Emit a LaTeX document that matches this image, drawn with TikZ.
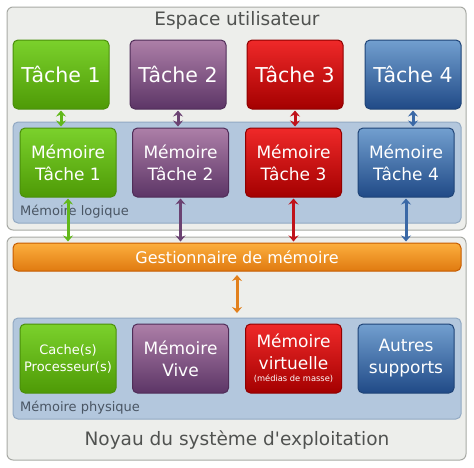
\documentclass[tikz,border=0pt]{standalone}
\usepackage{fontspec}
\setmainfont{DejaVu Sans}
\newfontfamily\plainfont{DejaVu Sans}
\usetikzlibrary{arrows.meta}
\definecolor{grnT}{HTML}{7BD12C}\definecolor{grnB}{HTML}{4E9A06}\definecolor{grnD}{HTML}{4A8F0A}
\definecolor{purT}{HTML}{AD7FA8}\definecolor{purB}{HTML}{5C3566}\definecolor{purD}{HTML}{4F2D58}
\definecolor{redT}{HTML}{EF2929}\definecolor{redB}{HTML}{A40000}\definecolor{redD}{HTML}{8F0000}
\definecolor{bluT}{HTML}{729FCF}\definecolor{bluB}{HTML}{204A87}\definecolor{bluD}{HTML}{1F4477}
\definecolor{orgT}{HTML}{FCAF3E}\definecolor{orgB}{HTML}{E07A10}\definecolor{orgD}{HTML}{C65C00}
\definecolor{grnA}{HTML}{62B81A}\definecolor{purA}{HTML}{6B4272}\definecolor{redA}{HTML}{C0121A}
\definecolor{bluA}{HTML}{3A68A6}\definecolor{orgA}{HTML}{E2801C}
\definecolor{outerF}{HTML}{EDEEEB}\definecolor{outerD}{HTML}{A8AAA5}
\definecolor{panelF}{HTML}{B3C7DD}\definecolor{panelD}{HTML}{92A9C3}
\definecolor{txtG}{HTML}{505250}\definecolor{txtP}{HTML}{4A5664}
\tikzset{
  outerbox/.style={draw=outerD,fill=outerF,line width=1pt,rounded corners=6pt,minimum width=459pt,minimum height=223pt,outer sep=0pt,inner sep=0pt},
  panel/.style={draw=panelD,fill=panelF,line width=1pt,rounded corners=5pt,minimum width=448pt,minimum height=101pt,outer sep=0pt,inner sep=0pt},
  tbox/.style={rounded corners=5pt,minimum width=96pt,minimum height=69pt,outer sep=0pt,inner sep=1pt,text=white,align=center,line width=1pt},
  green/.style={tbox,draw=grnD,top color=grnT,bottom color=grnB},
  purple/.style={tbox,draw=purD,top color=purT,bottom color=purB},
  red/.style={tbox,draw=redD,top color=redT,bottom color=redB},
  blue/.style={tbox,draw=bluD,top color=bluT,bottom color=bluB},
  big/.style={font=\fontsize{20.5}{24}\selectfont},
  mid/.style={font=\fontsize{17}{22}\selectfont},
  link/.style={line width=3pt,{Stealth[length=6pt,width=10pt]}-{Stealth[length=6pt,width=10pt]},shorten >=1.5pt,shorten <=1.5pt},
  lbl/.style={text=txtG,font=\fontsize{18.5}{22}\selectfont,inner sep=0pt},
  plbl/.style={text=txtP,font=\fontsize{13}{16}\selectfont,inner sep=0pt,anchor=west},
}
\begin{document}
\begin{tikzpicture}[x=1pt,y=-1pt]
\useasboundingbox (0,0) rectangle (474,467);
% outer boxes
\node[outerbox] (user) at (236.5,118.5) {};
\node[outerbox] (kern) at (236.5,348.5) {};
\node[lbl] (userlbl) at (237,20) {Espace utilisateur};
\node[lbl] (kernlbl) at (237,440) {\plainfont Noyau du système d'exploitation};
% panels
\node[panel] (logic) at (237,172.5) {};
\node[panel] (phys) at (237,368.5) {};
\node[plbl] (logiclbl) at (20,212) {Mémoire logique};
\node[plbl] (physlbl) at (20,408) {Mémoire physique};
% tasks
\node[green,big]  (t1) at (61,74.5) {Tâche 1};
\node[purple,big] (t2) at (178,74.5) {Tâche 2};
\node[red,big]    (t3) at (295,74.5) {Tâche 3};
\node[blue,big]   (t4) at (413,74.5) {Tâche 4};
% task memories
\node[green,mid]  (m1) at (68,162.5) {Mémoire\\Tâche 1};
\node[purple,mid] (m2) at (180.5,162.5) {Mémoire\\Tâche 2};
\node[red,mid]    (m3) at (293.5,162.5) {Mémoire\\Tâche 3};
\node[blue,mid]   (m4) at (406,162.5) {Mémoire\\Tâche 4};
% manager
\node[rounded corners=5pt,minimum width=448pt,minimum height=28pt,outer sep=0pt,inner sep=0pt,draw=orgD,line width=1pt,top color=orgT,bottom color=orgB,text=white,font=\fontsize{16}{19}\selectfont] (g) at (237,257) {Gestionnaire de mémoire};
% physical
\node[green,font=\fontsize{13}{17}\selectfont] (p1) at (68,358.5) {Cache(s)\\Processeur(s)};
\node[purple,mid] (p2) at (180.5,358.5) {Mémoire\\Vive};
\node[red,mid] (p3) at (293.5,358.5) {Mémoire\\virtuelle\\[-10pt]{\fontsize{8.3}{10}\selectfont (médias de masse)}};
\node[blue,mid] (p4) at (406,358.5) {Autres\\supports};
% links
\draw[link,grnA] (t1.south) -- (t1.south |- m1.north);
\draw[link,purA] (t2.south) -- (t2.south |- m2.north);
\draw[link,redA] (t3.south) -- (t3.south |- m3.north);
\draw[link,bluA] (t4.south) -- (t4.south |- m4.north);
\draw[link,grnA] (m1.south) -- (m1.south |- g.north);
\draw[link,purA] (m2.south) -- (m2.south |- g.north);
\draw[link,redA] (m3.south) -- (m3.south |- g.north);
\draw[link,bluA] (m4.south) -- (m4.south |- g.north);
\draw[link,orgA,shorten >=5pt,shorten <=4pt] (g.south) -- (g.south |- phys.north);
\end{tikzpicture}
\end{document}
